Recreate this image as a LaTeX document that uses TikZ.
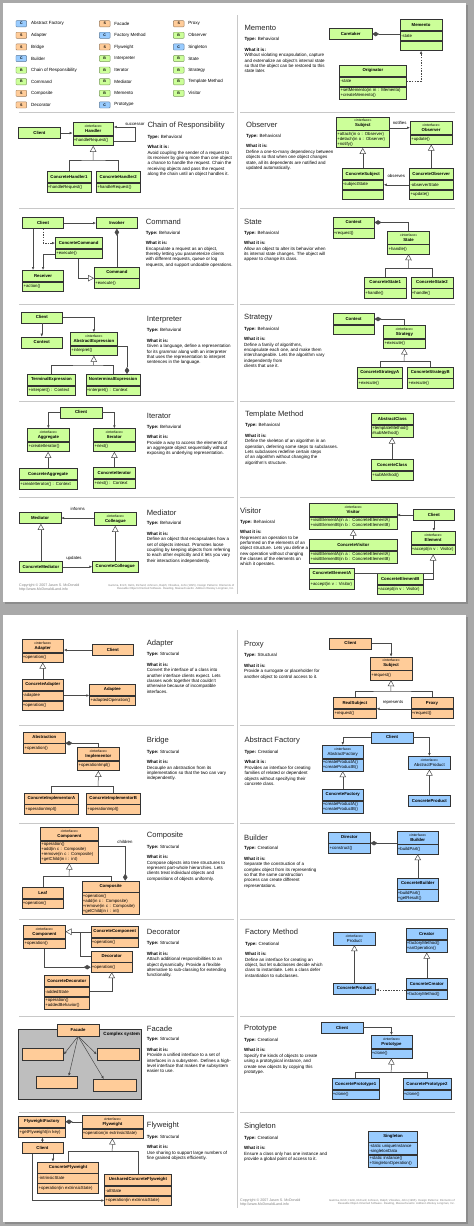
\documentclass[tikz,border=0pt]{standalone}
\usepackage{fontspec}
\setmainfont{Liberation Sans}
\usetikzlibrary{arrows.meta, positioning}

\definecolor{grn}{HTML}{CCFF99}
\definecolor{org}{HTML}{FFCC99}
\definecolor{blu}{HTML}{99CCFF}
\definecolor{boxc}{HTML}{333333}
\definecolor{linc}{HTML}{4A4A4A}
\definecolor{sepc}{HTML}{C8C8C8}
\definecolor{pagebg}{HTML}{A9A9A9}
\definecolor{shadowc}{HTML}{8C8C8C}
\definecolor{sysgray}{HTML}{BEBEBE}

\newcommand{\clsfont}{\fontsize{4.3}{5}\selectfont}
\newcommand{\sterfont}{\fontsize{3.5}{4}\selectfont\mdseries}
\newcommand{\bodyfont}{\fontsize{4.5}{5.33}\selectfont}
\newcommand{\pttlfont}{\fontsize{7.6}{9}\selectfont}

\tikzset{
  cls/.style={draw=boxc, fill=#1, line width=0.5pt, font=\clsfont\bfseries, align=center,
    inner xsep=1pt, inner ysep=1pt, minimum height=11pt, anchor=north west},
  ster/.style={cls=#1, minimum height=13pt},
  ops/.style={draw=boxc, fill=#1, line width=0.5pt, font=\clsfont, align=left,
    inner xsep=1pt, inner ysep=1.6pt, minimum height=9.5pt},
  ow/.style={text width=#1pt-2pt},
  line/.style={draw=linc, line width=0.5pt},
  asc/.style={line, -{Latex[length=3pt, width=2.6pt]}},
  dep/.style={asc, dash pattern=on 1.5pt off 1.2pt},
  inh/.style={line, -{Triangle[length=6pt, width=6.5pt, fill=white]}},
  comp/.style={line, {Diamond[length=7pt, width=4.5pt]}-},
  lbl/.style={font=\clsfont, inner sep=0},
  sep/.style={draw=sepc, line width=0.8pt},
  badge/.style={draw=#1!60!black, fill=#1, rounded corners=0.8pt, minimum width=10.7pt,
    minimum height=6.2pt, inner sep=0, line width=0.4pt, font=\fontsize{3.6}{4}\selectfont\bfseries},
  lgtxt/.style={font=\bodyfont, inner sep=0, anchor=west},
  ptitle/.style={font=\pttlfont, inner sep=0, anchor=west, text=black!85},
  ptext/.style={font=\bodyfont, inner sep=0, anchor=west},
  pbody/.style={font=\bodyfont, inner sep=0, anchor=north west, align=left},
  foot/.style={font=\fontsize{3.6}{4.3}\selectfont, inner sep=0, text=black!50},
  reft/.style={font=\fontsize{2.8}{3.6}\selectfont, inner sep=0, text=black!50}
}

% title, type and description of one pattern
\newcommand{\pdesc}[6]{%
  \node[ptitle] (#1) at (#2,#3) {#4};
  \node[ptext] (#1-type) at ([yshift=-11.3pt]#1.west) {\textbf{Type:} #5};
  \node[ptext] (#1-what) at ([yshift=-10pt]#1-type.west) {\textbf{What it is:}};
  \node[pbody] (#1-text) at ([yshift=-3.8pt]#1-what.west) {#6};
}

\begin{document}
\begin{tikzpicture}[x=1pt, y=-1pt]
\useasboundingbox (0,0) rectangle (474,1226);

% sheets
\fill[pagebg] (0,0) rectangle (474,1226);
\fill[shadowc] (5,5) rectangle (468,604);
\fill[white] (3,3) rectangle (466,602);
\fill[shadowc] (5,617) rectangle (468,1224);
\fill[white] (3,615) rectangle (466,1222);

\foreach \y in {112,208,304.3,401,497.7,725,823.3,919.3,1016,1112.7} {
  \draw[sep] (19,\y) -- (234,\y);
  \draw[sep] (240,\y) -- (455,\y);
}
\draw[sep] (237,15) -- (237,594);
\draw[sep] (237,630) -- (237,1208);

% legend
\node[badge=blu] (lg-af) at (21.3,23.7) {C}; \node[lgtxt, right=4pt of lg-af] (lg-af-t) {Abstract Factory};
\node[badge=org] (lg-ad) at (21.3,35.3) {S}; \node[lgtxt, right=4pt of lg-ad] (lg-ad-t) {Adapter};
\node[badge=org] (lg-br) at (21.3,46.9) {S}; \node[lgtxt, right=4pt of lg-br] (lg-br-t) {Bridge};
\node[badge=blu] (lg-bu) at (21.3,58.5) {C}; \node[lgtxt, right=4pt of lg-bu] (lg-bu-t) {Builder};
\node[badge=grn] (lg-cr) at (21.3,70.1) {B}; \node[lgtxt, right=4pt of lg-cr] (lg-cr-t) {Chain of Responsibility};
\node[badge=grn] (lg-cm) at (21.3,81.7) {B}; \node[lgtxt, right=4pt of lg-cm] (lg-cm-t) {Command};
\node[badge=org] (lg-co) at (21.3,93.3) {S}; \node[lgtxt, right=4pt of lg-co] (lg-co-t) {Composite};
\node[badge=org] (lg-de) at (21.3,104.9) {S}; \node[lgtxt, right=4pt of lg-de] (lg-de-t) {Decorator};
\node[badge=org] (lg-fa) at (104.7,23.7) {S}; \node[lgtxt, right=4pt of lg-fa] (lg-fa-t) {Facade};
\node[badge=blu] (lg-fm) at (104.7,35.3) {C}; \node[lgtxt, right=4pt of lg-fm] (lg-fm-t) {Factory Method};
\node[badge=org] (lg-fl) at (104.7,46.9) {S}; \node[lgtxt, right=4pt of lg-fl] (lg-fl-t) {Flyweight};
\node[badge=grn] (lg-in) at (104.7,58.5) {B}; \node[lgtxt, right=4pt of lg-in] (lg-in-t) {Interpreter};
\node[badge=grn] (lg-it) at (104.7,70.1) {B}; \node[lgtxt, right=4pt of lg-it] (lg-it-t) {Iterator};
\node[badge=grn] (lg-me) at (104.7,81.7) {B}; \node[lgtxt, right=4pt of lg-me] (lg-me-t) {Mediator};
\node[badge=grn] (lg-mm) at (104.7,93.3) {B}; \node[lgtxt, right=4pt of lg-mm] (lg-mm-t) {Memento};
\node[badge=blu] (lg-pt) at (104.7,104.9) {C}; \node[lgtxt, right=4pt of lg-pt] (lg-pt-t) {Prototype};
\node[badge=org] (lg-px) at (178.7,23.7) {S}; \node[lgtxt, right=4pt of lg-px] (lg-px-t) {Proxy};
\node[badge=grn] (lg-ob) at (178.7,35.3) {B}; \node[lgtxt, right=4pt of lg-ob] (lg-ob-t) {Observer};
\node[badge=blu] (lg-si) at (178.7,46.9) {C}; \node[lgtxt, right=4pt of lg-si] (lg-si-t) {Singleton};
\node[badge=grn] (lg-st) at (178.7,58.5) {B}; \node[lgtxt, right=4pt of lg-st] (lg-st-t) {State};
\node[badge=grn] (lg-sg) at (178.7,70.1) {B}; \node[lgtxt, right=4pt of lg-sg] (lg-sg-t) {Strategy};
\node[badge=grn] (lg-tm) at (178.7,81.7) {B}; \node[lgtxt, right=4pt of lg-tm] (lg-tm-t) {Template Method};
\node[badge=grn] (lg-vi) at (178.7,93.3) {B}; \node[lgtxt, right=4pt of lg-vi] (lg-vi-t) {Visitor};

% Memento
\pdesc{memento}{244.3}{28.3}{Memento}{Behavioral}{Without violating encapsulation, capture\\and externalize an object's internal state\\so that the object can be restored to this\\state later.}
\node[cls=grn, minimum width=42.4pt] (care) at (329.3,28.3) {Caretaker};
\node[cls=grn, minimum width=41.7pt] (mem) at (400,19.3) {Memento};
\node[ops=grn, ow=41.7, below=0pt of mem] (mem1) {-state};
\node[ops=grn, ow=41.7, below=0pt of mem1] (mem2) {};
\node[cls=grn, minimum width=66.7pt] (orig) at (339.3,65) {Originator};
\node[ops=grn, ow=66.7, below=0pt of orig] (orig1) {-state};
\node[ops=grn, ow=66.7, below=0pt of orig1] (orig2) {+setMemento(in m : Memento)\\+createMemento()};
\draw[comp] (care.east) -- (care.east -| mem1.west);
\draw[dep] (orig1.east) -| (mem2.south);

% Chain of Responsibility
\pdesc{chain}{147.3}{125.7}{Chain of Responsibility}{Behavioral}{Avoid coupling the sender of a request to\\its receiver by giving more than one object\\a chance to handle the request. Chain the\\receiving objects and pass the request\\along the chain until an object handles it.}
\node[cls=grn, minimum width=41.7pt] (cli1) at (18.3,127.3) {Client};
\node[ster=grn, minimum width=40.6pt] (hdl) at (72.7,122.3) {{\sterfont «interface»}\\Handler};
\node[ops=grn, ow=40.6, below=0pt of hdl] (hdl1) {+handleRequest()};
\node[cls=grn, minimum width=44pt] (ch1) at (46.7,171) {ConcreteHandler1};
\node[ops=grn, ow=44, below=0pt of ch1] (ch1o) {+handleRequest()};
\node[cls=grn, minimum width=44pt] (ch2) at (96,171) {ConcreteHandler2};
\node[ops=grn, ow=44, below=0pt of ch2] (ch2o) {+handleRequest()};
\draw[asc] (cli1.east) -- (cli1.east -| hdl.west);
\coordinate (succ) at (135,127);
\draw[asc] (hdl1.east) -| (succ) -- (succ -| hdl.east);
\node[lbl] (succ-l) at (135,124.3) {successor};
\coordinate (hdl-bus) at (93,160);
\draw[inh] (hdl-bus) -- (hdl1.south);
\draw[line] (ch1.north) |- (hdl-bus) -| (ch2.north);

% Observer
\pdesc{observer}{246}{125}{Observer}{Behavioral}{Define a one-to-many dependency between\\objects so that when one object changes\\state, all its dependents are notified and\\updated automatically.}
\node[ster=grn, minimum width=53.3pt] (subj) at (336,116.7) {{\sterfont «interface»}\\Subject};
\node[ops=grn, ow=53.3, below=0pt of subj] (subj1) {+attach(in o : Observer)\\+detach(in o : Observer)\\+notify()};
\node[ster=grn, minimum width=41.7pt] (obs) at (410,121) {{\sterfont «interface»}\\Observer};
\node[ops=grn, ow=41.7, below=0pt of obs] (obs1) {+update()};
\node[cls=grn, minimum width=41.6pt] (csub) at (341.7,168.3) {ConcreteSubject};
\node[ops=grn, ow=41.6, below=0pt of csub] (csub1) {-subjectState};
\node[ops=grn, ow=41.6, below=0pt of csub1] (csub2) {};
\node[cls=grn, minimum width=43.4pt] (cobs) at (409.3,168.3) {ConcreteObserver};
\node[ops=grn, ow=43.4, below=0pt of cobs] (cobs1) {-observerState};
\node[ops=grn, ow=43.4, below=0pt of cobs1] (cobs2) {+update()};
\draw[asc] (subj.east |- obs.west) -- (obs.west);
\node[lbl] (notif) at (399.6,123) {notifies};
\draw[inh] (csub.north) -- (csub.north |- subj1.south);
\draw[inh] (cobs.north) -- (cobs.north |- obs1.south);
\draw[asc] (cobs1.west) -- (cobs1.west -| csub1.east);
\node[lbl] (obsv) at (396.3,175.5) {observes};

% Command
\pdesc{command}{145.7}{221.7}{Command}{Behavioral}{Encapsulate a request as an object,\\thereby letting you parameterize clients\\with different requests, queue or log\\requests, and support undoable operations.}
\node[cls=grn, minimum width=41pt] (cli2) at (22.3,217.3) {Client};
\node[cls=grn, minimum width=41.3pt] (inv) at (96,217.3) {Invoker};
\node[cls=grn, minimum width=46.7pt] (ccmd) at (55,237.3) {ConcreteCommand};
\node[ops=grn, ow=46.7, below=0pt of ccmd] (ccmd1) {+execute()};
\node[cls=grn, minimum width=41pt] (rcv) at (22.3,270) {Receiver};
\node[ops=grn, ow=41, below=0pt of rcv] (rcv1) {+action()};
\node[cls=grn, minimum width=45.3pt] (cmd) at (94,266.7) {Command};
\node[ops=grn, ow=45.3, below=0pt of cmd] (cmd1) {+execute()};
\draw[asc] (cli2.east) -- (inv.west);
\draw[comp] (inv.south) -- (cmd.north);
\draw[asc] ([xshift=-10pt]cli2.south) -- ([xshift=-10pt]cli2.south |- rcv.north);
\draw[dep] (cli2.south) |- (ccmd.west);
\draw[asc] (ccmd1.west) -| (rcv.north);
\draw[inh] (ccmd1.south) |- (cmd1.north west);

% State
\pdesc{state}{244}{221.7}{State}{Behavioral}{Allow an object to alter its behavior when\\its internal state changes. The object will\\appear to change its class.}
\node[cls=grn, minimum width=41.3pt] (ctx1) at (332.7,216.7) {Context};
\node[ops=grn, ow=41.3, below=0pt of ctx1] (ctx1o) {+request()};
\node[ster=grn, minimum width=42pt] (st) at (387.3,230.7) {{\sterfont «interface»}\\State};
\node[ops=grn, ow=42, below=0pt of st] (st1) {+handle()};
\node[cls=grn, minimum width=42pt] (cs1) at (364,276.7) {ConcreteState1};
\node[ops=grn, ow=42, below=0pt of cs1] (cs1o) {+handle()};
\node[cls=grn, minimum width=42pt] (cs2) at (410.7,276.7) {ConcreteState2};
\node[ops=grn, ow=42, below=0pt of cs2] (cs2o) {+handle()};
\draw[comp] (ctx1.east) -| (st.north);
\coordinate (st-bus) at (408.3,268.3);
\draw[inh] (st-bus) -- (st1.south);
\draw[line] (cs1.north) |- (st-bus) -| (cs2.north);

% Interpreter
\pdesc{interp}{146.7}{319.3}{Interpreter}{Behavioral}{Given a language, define a representation\\for its grammar along with an interpreter\\that uses the representation to interpret\\sentences in the language.}
\node[cls=grn, minimum width=41.6pt] (cli3) at (20.7,311.7) {Client};
\node[cls=grn, minimum width=41.6pt] (ctx2) at (20.7,336.7) {Context};
\node[ster=grn, minimum width=47.3pt] (ae) at (70,332.3) {{\sterfont «interface»}\\AbstractExpression};
\node[ops=grn, ow=47.3, below=0pt of ae] (ae1) {+interpret()};
\node[cls=grn, minimum width=47.7pt] (te) at (27.3,374) {TerminalExpression};
\node[ops=grn, ow=47.7, below=0pt of te] (te1) {+interpret() : Context};
\node[cls=grn, minimum width=54.3pt] (ne) at (85.7,374) {NonterminalExpression};
\node[ops=grn, ow=54.3, below=0pt of ne] (ne1) {+interpret() : Context};
\draw[asc] (cli3.south) -- (ctx2.north);
\draw[asc] (cli3.east) -| (ae.north);
\coordinate (ae-bus) at (93.65,365);
\draw[inh] (ae-bus) -- (ae1.south);
\draw[line] (te.north) |- (ae-bus) -| (ne.north);
\draw[comp] ([xshift=13.9pt]ne.north) |- (ae1.north east);

% Strategy
\pdesc{strategy}{244}{317.7}{Strategy}{Behavioral}{Define a family of algorithms,\\encapsulate each one, and make them\\interchangeable. Lets the algorithm vary\\independently from\\clients that use it.}
\node[cls=grn, minimum width=41.3pt] (ctx3) at (332.7,313.3) {Context};
\node[ops=grn, ow=41.3, below=0pt of ctx3] (ctx3o) {};
\node[ster=grn, minimum width=41.7pt] (stg) at (383.3,325) {{\sterfont «interface»}\\Strategy};
\node[ops=grn, ow=41.7, below=0pt of stg] (stg1) {+execute()};
\node[cls=grn, minimum width=44.4pt] (csa) at (357.3,366.7) {ConcreteStrategyA};
\node[ops=grn, ow=44.4, below=0pt of csa] (csa1) {+execute()};
\node[cls=grn, minimum width=45.4pt] (csb) at (407.3,366.7) {ConcreteStrategyB};
\node[ops=grn, ow=45.4, below=0pt of csb] (csb1) {+execute()};
\draw[comp] (ctx3.east) -| (stg.north);
\coordinate (stg-bus) at (404.15,361.7);
\draw[inh] (stg-bus) -- (stg1.south);
\draw[line] (csa.north) |- (stg-bus) -| (csb.north);

% Iterator
\pdesc{iterator}{146.7}{415.7}{Iterator}{Behavioral}{Provide a way to access the elements of\\an aggregate object sequentially without\\exposing its underlying representation.}
\node[cls=grn, minimum width=41.7pt] (cli4) at (60,406.7) {Client};
\node[ster=grn, minimum width=41.7pt] (agg) at (27.3,428.3) {{\sterfont «interface»}\\Aggregate};
\node[ops=grn, ow=41.7, below=0pt of agg] (agg1) {+createIterator()};
\node[ster=grn, minimum width=41.7pt] (itr) at (93.3,428.3) {{\sterfont «interface»}\\Iterator};
\node[ops=grn, ow=41.7, below=0pt of itr] (itr1) {+next()};
\node[cls=grn, minimum width=57.7pt] (cagg) at (19,468.3) {ConcreteAggregate};
\node[ops=grn, ow=57.7, below=0pt of cagg] (cagg1) {+createIterator() : Context};
\node[cls=grn, minimum width=41.7pt] (citr) at (93.3,467.3) {ConcreteIterator};
\node[ops=grn, ow=41.7, below=0pt of citr] (citr1) {+next() : Context};
\draw[asc] (cli4.west) -| (agg.north);
\draw[asc] (cli4.east) -| (itr.north);
\draw[inh] (cagg.north) -- (cagg.north |- agg1.south);
\draw[inh] (citr.north) -- (citr.north |- itr1.south);

% Template Method
\pdesc{template}{245}{414.3}{Template Method}{Behavioral}{Define the skeleton of an algorithm in an\\operation, deferring some steps to subclasses.\\Lets subclasses redefine certain steps\\of an algorithm without changing the\\algorithm's structure.}
\node[cls=grn, minimum width=42.3pt] (abc) at (371,413.3) {AbstractClass};
\node[ops=grn, ow=42.3, below=0pt of abc] (abc1) {+templateMethod()\\\#subMethod()};
\node[cls=grn, minimum width=41.7pt] (ccl) at (371,459.3) {ConcreteClass};
\node[ops=grn, ow=41.7, below=0pt of ccl] (ccl1) {+subMethod()};
\draw[inh] (ccl.north) -- (ccl.north |- abc1.south);

% Mediator
\pdesc{mediator}{146.7}{512.3}{Mediator}{Behavioral}{Define an object that encapsulates how a\\set of objects interact. Promotes loose\\coupling by keeping objects from referring\\to each other explicitly and it lets you vary\\their interactions independently.}
\node[cls=grn, minimum width=41.7pt] (med) at (19,512.3) {Mediator};
\node[ster=grn, minimum width=41.7pt] (col) at (94.3,512.3) {{\sterfont «interface»}\\Colleague};
\node[cls=grn, minimum width=43.3pt] (cmed) at (19,561) {ConcreteMediator};
\node[cls=grn, minimum width=45.4pt] (ccol) at (92.3,561) {ConcreteColleague};
\draw[asc] (col.west |- med.east) -- (med.east);
\node[lbl] (inf) at (77.7,509.3) {informs};
\draw[inh] (cmed.north) -- (cmed.north |- med.south);
\draw[inh] (ccol.north) -- (ccol.north |- col.south);
\draw[asc] (cmed.east) -- (ccol.west);
\node[lbl] (upd) at (74,558.3) {updates};

% Visitor
\pdesc{visitor}{240}{510.7}{Visitor}{Behavioral}{Represent an operation to be\\performed on the elements of an\\object structure. Lets you define a\\new operation without changing\\the classes of the elements on\\which it operates.}
\node[ster=grn, minimum width=87.4pt] (vis) at (309.3,503.3) {{\sterfont «interface»}\\Visitor};
\node[ops=grn, ow=87.4, below=0pt of vis] (vis1) {+visitElementA(in a : ConcreteElementA)\\+visitElementB(in b : ConcreteElementB)};
\node[cls=grn, minimum width=40.7pt] (cli5) at (413.3,509.3) {Client};
\node[ster=grn, minimum width=44.3pt] (elm) at (410.7,531) {{\sterfont «interface»}\\Element};
\node[ops=grn, ow=44.3, below=0pt of elm] (elm1) {+accept(in v : Visitor)};
\node[cls=grn, minimum width=87.4pt] (cvis) at (309.3,539.3) {ConcreteVisitor};
\node[ops=grn, ow=87.4, below=0pt of cvis] (cvis1) {+visitElementA(in a : ConcreteElementA)\\+visitElementB(in b : ConcreteElementB)};
\node[cls=grn, minimum width=44.7pt] (cea) at (309.3,567.7) {ConcreteElementA};
\node[ops=grn, ow=44.7, below=0pt of cea] (cea1) {+accept(in v : Visitor)};
\node[cls=grn, minimum width=46.6pt] (ceb) at (376.7,573.2) {ConcreteElementB};
\node[ops=grn, ow=46.6, below=0pt of ceb] (ceb1) {+accept(in v : Visitor)};
\draw[asc] (cli5.west) -- (cli5.west -| vis.east);
\draw[asc] (cli5.south) -- (cli5.south |- elm.north);
\draw[inh] (cvis.north) -- (cvis.north |- vis1.south);
\draw[inh] (ceb.east) -| (elm1.south);
\draw[line] (cea.east) -- (cea.east -| elm1.south);

% footer, first sheet
\node[foot, anchor=north west, align=left] (foot1) at (19,583.5) {Copyright © 2007 Jason S. McDonald\\http://www.McDonaldLand.info};
\node[reft, anchor=north east, align=right] (ref1) at (234.3,584) {Gamma, Erich; Helm, Richard; Johnson, Ralph; Vlissides, John (1995). Design Patterns: Elements of\\Reusable Object-Oriented Software. Reading, Massachusetts: Addison Wesley Longman, Inc.};

% Adapter
\pdesc{adapter}{146.7}{643.3}{Adapter}{Structural}{Convert the interface of a class into\\another interface clients expect. Lets\\classes work together that couldn't\\otherwise because of incompatible\\interfaces.}
\node[ster=org, minimum width=41.6pt] (adp) at (21.7,639) {{\sterfont «interface»}\\Adapter};
\node[ops=org, ow=41.6, below=0pt of adp] (adp1) {+operation()};
\node[cls=org, minimum width=41.6pt] (cli6) at (91.7,644.3) {Client};
\node[cls=org, minimum width=41.6pt] (cadp) at (21.7,679) {ConcreteAdapter};
\node[ops=org, ow=41.6, below=0pt of cadp] (cadp1) {-adaptee};
\node[ops=org, ow=41.6, below=0pt of cadp1] (cadp2) {+operation()};
\node[cls=org, minimum width=45.7pt] (adpt) at (89.3,684) {Adaptee};
\node[ops=org, ow=45.7, below=0pt of adpt] (adpt1) {+adaptedOperation()};
\draw[asc] (cli6.west) -- (cli6.west -| adp.east);
\draw[inh] (cadp.north) -- (cadp.north |- adp1.south);
\draw[asc] (cadp1.east |- adpt1.north west) -- (adpt1.north west);

% Proxy
\pdesc{proxy}{244}{644.3}{Proxy}{Structural}{Provide a surrogate or placeholder for\\another object to control access to it.}
\node[cls=org, minimum width=41.7pt] (cli7) at (329.3,637.7) {Client};
\node[ster=org, minimum width=41.7pt] (psub) at (370,656.7) {{\sterfont «interface»}\\Subject};
\node[ops=org, ow=41.7, below=0pt of psub] (psub1) {+request()};
\node[cls=org, minimum width=42.7pt] (rsub) at (333.3,697.3) {RealSubject};
\node[ops=org, ow=42.7, below=0pt of rsub] (rsub1) {+request()};
\node[cls=org, minimum width=42pt] (prx) at (410.7,697.3) {Proxy};
\node[ops=org, ow=42, below=0pt of prx] (prx1) {+request()};
\draw[asc] (cli7.east) -| (psub.north);
\coordinate (psub-bus) at (390.85,691);
\draw[inh] (psub-bus) -- (psub1.south);
\draw[line] (rsub.north) |- (psub-bus) -| (prx.north);
\draw[asc] (prx1.north west) -- (rsub1.north east);
\node[lbl] (repr) at (393,702.3) {represents};

% Bridge
\pdesc{bridge}{146.7}{740.7}{Bridge}{Structural}{Decouple an abstraction from its\\implementation so that the two can vary\\independently.}
\node[cls=org, minimum width=41.7pt] (abs) at (23.3,731.7) {Abstraction};
\node[ops=org, ow=41.7, below=0pt of abs] (abs1) {+operation()};
\node[ster=org, minimum width=41.7pt] (imp) at (77.3,747.3) {{\sterfont «interface»}\\Implementor};
\node[ops=org, ow=41.7, below=0pt of imp] (imp1) {+operationImpl()};
\node[cls=org, minimum width=54.3pt] (cia) at (24,792.7) {ConcreteImplementorA};
\node[ops=org, ow=54.3, below=0pt of cia] (cia1) {+operationImpl()};
\node[cls=org, minimum width=54pt] (cib) at (86,792.7) {ConcreteImplementorB};
\node[ops=org, ow=54, below=0pt of cib] (cib1) {+operationImpl()};
\draw[comp] (abs1.north east) -| (imp.north);
\coordinate (imp-bus) at (98.15,786.7);
\draw[inh] (imp-bus) -- (imp1.south);
\draw[line] (cia.north) |- (imp-bus) -| (cib.north);

% Abstract Factory
\pdesc{absfact}{244.3}{741}{Abstract Factory}{Creational}{Provides an interface for creating\\families of related or dependent\\objects without specifying their\\concrete class.}
\node[cls=blu, minimum width=41.7pt] (cli8) at (371,731.7) {Client};
\node[ster=blu, minimum width=41.6pt, font=\clsfont] (af) at (321.7,745) {{\sterfont «interface»}\\AbstractFactory};
\node[ops=blu, ow=41.6, below=0pt of af] (af1) {+createProductA()\\+createProductB()};
\node[ster=blu, minimum width=41.7pt, font=\clsfont] (ap) at (408.3,756) {{\sterfont «interface»}\\AbstractProduct};
\node[cls=blu, minimum width=41.6pt] (cf) at (321.7,789) {ConcreteFactory};
\node[ops=blu, ow=41.6, below=0pt of cf] (cf1) {+createProductA()\\+createProductB()};
\node[cls=blu, minimum width=41.7pt] (cp) at (408.3,795) {ConcreteProduct};
\draw[asc] (cli8.west) -| (af.north);
\draw[asc] (cli8.east) -| (ap.north);
\draw[inh] (cf.north) -- (cf.north |- af1.south);
\draw[inh] (cp.north) -- (cp.north |- ap.south);

% Composite
\pdesc{composite}{146.7}{835.7}{Composite}{Structural}{Compose objects into tree structures to\\represent part-whole hierarchies. Lets\\clients treat individual objects and\\compositions of objects uniformly.}
\node[ster=org, minimum width=58.3pt] (cmp) at (40,827.3) {{\sterfont «interface»}\\Component};
\node[ops=org, ow=58.3, below=0pt of cmp] (cmp1) {+operation()\\+add(in c : Composite)\\+remove(in c : Composite)\\+getChild(in i : int)};
\node[cls=org, minimum width=41.6pt] (leaf) at (21.7,887.3) {Leaf};
\node[ops=org, ow=41.6, below=0pt of leaf] (leaf1) {+operation()};
\node[cls=org, minimum width=57.6pt] (cpst) at (81.7,880.7) {Composite};
\node[ops=org, ow=57.6, below=0pt of cpst] (cpst1) {+operation()\\+add(in c : Composite)\\+remove(in c : Composite)\\+getChild(in i : int)};
\coordinate (cmp-bus) at (69.15,876);
\draw[inh] (cmp-bus) -- (cmp1.south);
\draw[line] (leaf.north) |- (cmp-bus) -| (cpst.north);
\draw[comp] ([xshift=14.5pt]cpst.north) |- ([yshift=6pt]cmp1.east);
\node[lbl] (chl) at (125,841.5) {children};

% Builder
\pdesc{builder}{244}{837.3}{Builder}{Creational}{Separate the construction of a\\complex object from its representing\\so that the same construction\\process can create different\\representations.}
\node[cls=blu, minimum width=41.7pt] (dir) at (328.3,831.7) {Director};
\node[ops=blu, ow=41.7, below=0pt of dir] (dir1) {+construct()};
\node[ster=blu, minimum width=41.6pt] (bld) at (396.7,830.7) {{\sterfont «interface»}\\Builder};
\node[ops=blu, ow=41.6, below=0pt of bld] (bld1) {+buildPart()};
\node[cls=blu, minimum width=41.6pt] (cbld) at (396.7,877.7) {ConcreteBuilder};
\node[ops=blu, ow=41.6, below=0pt of cbld] (cbld1) {+buildPart()\\+getResult()};
\draw[comp] (dir1.north east) -- (dir1.north east -| bld.west);
\draw[inh] (cbld.north) -- (cbld.north |- bld1.south);

% Decorator
\pdesc{decorator}{146.7}{932.3}{Decorator}{Structural}{Attach additional responsibilities to an\\object dynamically. Provide a flexible\\alternative to sub-classing for extending\\functionality.}
\node[ster=org, minimum width=41.7pt] (dcmp) at (23.3,925) {{\sterfont «interface»}\\Component};
\node[ops=org, ow=41.7, below=0pt of dcmp] (dcmp1) {+operation()};
\node[cls=org, minimum width=47.6pt] (ccmp) at (90.7,926) {ConcreteComponent};
\node[ops=org, ow=47.6, below=0pt of ccmp] (ccmp1) {+operation()};
\node[cls=org, minimum width=41.6pt] (dec) at (90.7,950.7) {Decorator};
\node[ops=org, ow=41.6, below=0pt of dec] (dec1) {+operation()};
\node[cls=org, minimum width=45pt] (cdec) at (44,975) {ConcreteDecorator};
\node[ops=org, ow=45, below=0pt of cdec] (cdec1) {-addedState};
\node[ops=org, ow=45, below=0pt of cdec1] (cdec2) {+operation()\\+addedBehavior()};
\draw[inh] (ccmp.west) -- (dcmp.east);
\coordinate (dec-jn) at (80,931.5);
\draw[line] (dec.west) -| (dec-jn);
\draw[comp] (dec1.west) -| (dcmp1.south);
\draw[inh] (cdec1.east) -| (dec1.south);

% Factory Method
\pdesc{factory}{245}{932.7}{Factory Method}{Creational}{Define an interface for creating an\\object, but let subclasses decide which\\class to instantiate. Lets a class defer\\instantiation to subclasses.}
\node[ster=blu, minimum width=41.7pt, font=\clsfont] (prd) at (333.3,931.7) {{\sterfont «interface»}\\Product};
\node[cls=blu, minimum width=41.6pt] (crt) at (405.7,928.3) {Creator};
\node[ops=blu, ow=41.6, below=0pt of crt] (crt1) {+factoryMethod()\\+anOperation()};
\node[cls=blu, minimum width=41.7pt] (cprd) at (333.3,982.7) {ConcreteProduct};
\node[cls=blu, minimum width=41.6pt] (ccrt) at (405.7,978.3) {ConcreteCreator};
\node[ops=blu, ow=41.6, below=0pt of ccrt] (ccrt1) {+factoryMethod()};
\draw[inh] (cprd.north) -- (cprd.north |- prd.south);
\draw[inh] (ccrt.north) -- (ccrt.north |- crt1.south);
\draw[dep] (ccrt1.north west) -- (ccrt1.north west -| cprd.east);

% Facade
\pdesc{facade}{146.7}{1028.3}{Facade}{Structural}{Provide a unified interface to a set of\\interfaces in a subsystem. Defines a high-\\level interface that makes the subsystem\\easier to use.}
\node[draw=boxc, fill=sysgray, line width=0.5pt, minimum width=122.4pt, minimum height=69.7pt, inner sep=0, anchor=north west] (sys) at (18.3,1029.3) {};
\node[font=\fontsize{4.6}{5}\selectfont\bfseries, inner sep=0, anchor=north east] (sys-l) at ([xshift=-1pt, yshift=-2.5pt]sys.north east) {Complex system};
\node[cls=org, minimum width=42.3pt, minimum height=11.7pt] (fac) at (56.7,1024) {Facade};
\node[cls=org, minimum width=41.6pt, minimum height=11.7pt] (sa) at (21.7,1048.3) {};
\node[cls=org, minimum width=42.6pt, minimum height=11.7pt] (sb) at (96.7,1048.3) {};
\node[cls=org, minimum width=41.6pt, minimum height=11.7pt] (sc) at (35.7,1076) {};
\node[cls=org, minimum width=42.4pt, minimum height=11.7pt] (sd) at (93.3,1079) {};
\draw[asc] (fac.south) -- (sa.east);
\draw[asc] (fac.south) -- (sb.west);
\draw[asc] (fac.south) -- ([xshift=12pt]sc.north);
\draw[asc] (fac.south) -- ([xshift=-11pt]sd.north);

% Prototype
\pdesc{prototype}{244}{1029}{Prototype}{Creational}{Specify the kinds of objects to create\\using a prototypical instance, and\\create new objects by copying this\\prototype.}
\node[cls=blu, minimum width=41.7pt] (cli9) at (321,1021.7) {Client};
\node[ster=blu, minimum width=41pt] (pro) at (370.7,1035) {{\sterfont «interface»}\\Prototype};
\node[ops=blu, ow=41, below=0pt of pro] (pro1) {+clone()};
\node[cls=blu, minimum width=47.3pt] (cp1) at (331.7,1078.3) {ConcretePrototype1};
\node[ops=blu, ow=47.3, below=0pt of cp1] (cp1o) {+clone()};
\node[cls=blu, minimum width=48pt] (cp2) at (402.7,1078.3) {ConcretePrototype2};
\node[ops=blu, ow=48, below=0pt of cp2] (cp2o) {+clone()};
\draw[asc] (cli9.east) -| (pro.north);
\coordinate (pro-bus) at (391.2,1072.3);
\draw[inh] (pro-bus) -- (pro1.south);
\draw[line] (cp1.north) |- (pro-bus) -| (cp2.north);

% Flyweight
\pdesc{flyweight}{146.7}{1126}{Flyweight}{Structural}{Use sharing to support large numbers of\\fine grained objects efficiently.}
\node[cls=org, minimum width=46.7pt] (ff) at (18.3,1116) {FlyweightFactory};
\node[ops=org, ow=46.7, below=0pt of ff] (ff1) {+getFlyweight(in key)};
\node[ster=org, minimum width=61pt] (fw) at (81.7,1115) {{\sterfont «interface»}\\Flyweight};
\node[ops=org, ow=61, below=0pt of fw] (fw1) {+operation(in extrinsicState)};
\node[cls=org, minimum width=41pt] (cli10) at (21.7,1142.3) {Client};
\node[cls=org, minimum width=61pt] (cfw) at (37.3,1161.7) {ConcreteFlyweight};
\node[ops=org, ow=61, below=0pt of cfw] (cfw1) {-intrinsicState};
\node[ops=org, ow=61, below=0pt of cfw1] (cfw2) {+operation(in extrinsicState)};
\node[cls=org, minimum width=66.7pt] (ucf) at (104.3,1174) {UnsharedConcreteFlyweight};
\node[ops=org, ow=66.7, below=0pt of ucf] (ucf1) {-allState};
\node[ops=org, ow=66.7, below=0pt of ucf1] (ucf2) {+operation(in extrinsicState)};
\draw[comp] (ff.east) -- (ff.east -| fw.west);
\draw[asc] (cli10.north) -- (cli10.north |- ff1.south);
\draw[asc] ([xshift=10.5pt]cli10.south) -- ([xshift=10.5pt]cli10.south |- cfw.north);
\draw[asc] ([xshift=-10.5pt]cli10.south) |- (ucf2.west);
\coordinate (fw-bus) at (112.2,1151);
\draw[inh] (fw-bus) -- (fw1.south);
\draw[line] (cfw.north) |- (fw-bus) -| (ucf.north);

% Singleton
\pdesc{singleton}{244}{1126.7}{Singleton}{Creational}{Ensure a class only has one instance and\\provide a global point of access to it.}
\node[cls=blu, minimum width=49pt] (sgl) at (368.3,1130.7) {Singleton};
\node[ops=blu, ow=49, below=0pt of sgl] (sgl1) {-static uniqueInstance\\-singletonData};
\node[ops=blu, ow=49, below=0pt of sgl1] (sgl2) {+static instance()\\+SingletonOperation()};

% footer, second sheet
\node[foot, anchor=north west, align=left] (foot2) at (240,1198.5) {Copyright © 2007 Jason S. McDonald\\http://www.McDonaldLand.info};
\node[reft, anchor=north east, align=right] (ref2) at (455,1199) {Gamma, Erich; Helm, Richard; Johnson, Ralph; Vlissides, John (1995). Design Patterns: Elements of\\Reusable Object-Oriented Software. Reading, Massachusetts: Addison Wesley Longman, Inc.};

\end{tikzpicture}
\end{document}
